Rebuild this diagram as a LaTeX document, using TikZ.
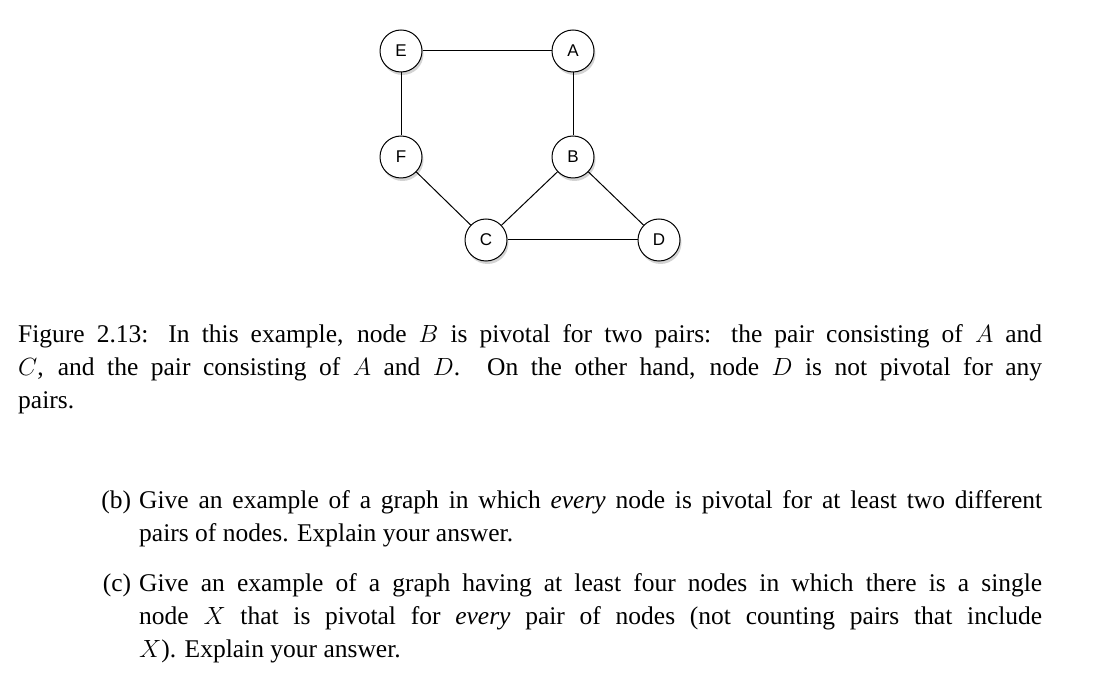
\documentclass[tikz,border=0pt]{standalone}
\usepackage{fontspec}
\setmainfont{Liberation Serif}
\newfontfamily\nodefont{Liberation Sans}
\usetikzlibrary{shadows}
\begin{document}
\begin{tikzpicture}[x=1pt,y=-1pt,
  vert/.style={circle,draw,fill=white,minimum size=42pt,inner sep=0pt,line width=1pt,
    font=\nodefont\fontsize{17}{17}\selectfont,
    drop shadow={shadow xshift=1.5pt,shadow yshift=-3pt,opacity=0.35}},
  edge/.style={line width=1pt},
  txt/.style={anchor=north west,inner sep=0pt,align=justify,font=\fontsize{25.5}{33}\selectfont}]
\useasboundingbox (0,0) rectangle (1108,692);
\node[vert] (E) at (401,51) {E};
\node[vert] (A) at (573,51) {A};
\node[vert] (F) at (401,157) {F};
\node[vert] (B) at (573,157) {B};
\node[vert] (C) at (486,240) {C};
\node[vert] (D) at (659,240) {D};
\draw[edge] (E) -- (A);
\draw[edge] (E) -- (F);
\draw[edge] (A) -- (B);
\draw[edge] (F) -- (C);
\draw[edge] (B) -- (C);
\draw[edge] (B) -- (D);
\draw[edge] (C) -- (D);
\node[txt,text width=1024pt] (cap) at (18,324) {Figure 2.13: In this example, node $B$ is pivotal for two pairs: the pair consisting of $A$ and\linebreak $C$, and the pair consisting of $A$ and $D$. On the other hand, node $D$ is not pivotal for any\linebreak pairs.};
\node[txt,text width=903pt] (pb) at (139,490) {\llap{(b)\hspace{8pt}}Give an example of a graph in which \emph{every} node is pivotal for at least two different\linebreak pairs of nodes. Explain your answer.};
\node[txt,text width=903pt] (pc) at (139,573) {\llap{(c)\hspace{8pt}}Give an example of a graph having at least four nodes in which there is a single\linebreak node $X$ that is pivotal for \emph{every} pair of nodes (not counting pairs that include\linebreak $X$). Explain your answer.};
\end{tikzpicture}
\end{document}
